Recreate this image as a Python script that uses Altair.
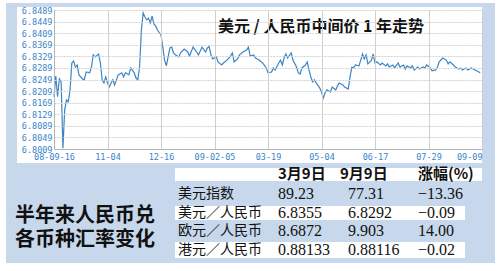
import altair as alt
import pandas as pd

# ---------------- data ----------------
days = [0,1,2,3,4,5,6,7,8,9,10,11,12,13,14,16,17,18,20,21,22,23,25,26,27,28,29,30,31,32,33,34,36,38,39,40,42,43,45,46,47,48,49,50,51,52,53,54,55,56,57,58,60,61,62,63,64,65,66,67,68,70,71,73,75,76,78,80,81,83,85,86,87,88,89,91,92,94,95,97,99,100,101,103,104,106,108,109,110,112,113,115,117,119,120,122,123,124,126,127,128,129,130,131,133,134,136,137,138,139,141,142,143,144,145,146,147,149,150,151,152,153,155,156,158,159,160,162,163,165,166,167,168,169,171,172,173,174,175,176,178,179,180,181,183,184,186,187,188,190,191,193,194,196,197,198,200,201,202,204,205,207,208,209,211,212,214,215,216,218,220,221,222,224,225,227,228,229,231,232,234,235,237,239]
rates = [6.8189,6.8261,6.8190,6.8251,6.8241,6.8012,6.8144,6.8178,6.8172,6.8213,6.8306,6.8313,6.8292,6.8299,6.8265,6.8251,6.8248,6.8275,6.8272,6.8292,6.8334,6.8327,6.8337,6.8306,6.8248,6.8237,6.8258,6.8237,6.8223,6.8237,6.8248,6.8230,6.8265,6.8272,6.8258,6.8272,6.8265,6.8289,6.8272,6.8254,6.8248,6.8292,6.8420,6.8479,6.8465,6.8455,6.8461,6.8444,6.8468,6.8441,6.8434,6.8420,6.8403,6.8361,6.8316,6.8296,6.8327,6.8358,6.8361,6.8341,6.8334,6.8327,6.8341,6.8354,6.8344,6.8330,6.8361,6.8344,6.8334,6.8361,6.8344,6.8358,6.8363,6.8334,6.8320,6.8327,6.8310,6.8299,6.8306,6.8316,6.8330,6.8341,6.8310,6.8320,6.8334,6.8344,6.8351,6.8361,6.8330,6.8334,6.8323,6.8316,6.8306,6.8289,6.8272,6.8275,6.8289,6.8282,6.8306,6.8316,6.8299,6.8323,6.8337,6.8323,6.8341,6.8316,6.8292,6.8272,6.8268,6.8289,6.8299,6.8310,6.8282,6.8258,6.8241,6.8248,6.8237,6.8220,6.8206,6.8185,6.8203,6.8213,6.8206,6.8223,6.8213,6.8227,6.8237,6.8230,6.8223,6.8216,6.8258,6.8292,6.8289,6.8299,6.8296,6.8316,6.8337,6.8320,6.8334,6.8303,6.8316,6.8337,6.8306,6.8310,6.8299,6.8306,6.8296,6.8303,6.8292,6.8299,6.8289,6.8306,6.8292,6.8299,6.8285,6.8296,6.8289,6.8296,6.8282,6.8292,6.8285,6.8292,6.8289,6.8299,6.8289,6.8279,6.8282,6.8292,6.8310,6.8323,6.8316,6.8303,6.8310,6.8299,6.8292,6.8285,6.8289,6.8282,6.8289,6.8282,6.8289,6.8285,6.8279,6.8272]

x_tick_days = [0, 30, 60, 90, 120, 150, 180, 210, 240]
x_tick_labels = ["08-09-16", "11-04", "12-16", "09-02-05", "03-19", "05-04", "06-17", "07-29", "09-09"]
y_ticks = [6.8009, 6.8049, 6.8089, 6.8129, 6.8169, 6.8209, 6.8249, 6.8289,
           6.8329, 6.8369, 6.8409, 6.8449, 6.8489]

chart_title = "美元 / 人民币中间价 1 年走势"
side_title = ["半年来人民币兑", "各币种汇率变化"]
headers = ["3月9日", "9月9日", "涨幅(%)"]
row_names = ["美元指数", "美元／人民币", "欧元／人民币", "港元／人民币"]
mar9 = ["89.23", "6.8355", "8.6872", "0.88133"]
sep9 = ["77.31", "6.8292", "9.903", "0.88116"]
change = ["−13.36", "−0.09", "14.00", "−0.02"]

# ---------------- styles ----------------
BLUE_BG = "#c7d7ec"
LINE = "#3d85c4"
LABEL_BLUE = "#3a84c8"
CJK = "Noto Sans CJK SC"

line_df = pd.DataFrame({"day": days, "rate": rates})
table_df = pd.DataFrame({"name": row_names, "mar9": mar9, "sep9": sep9, "change": change})

label_expr = "[" + ",".join(f"'{s}'" for s in x_tick_labels) + "][round(datum.value/30)]"

def deco_rect(x, x2, y, y2, color):
    return alt.Chart(pd.DataFrame({"k": [0]})).mark_rect(color=color).encode(
        x=alt.value(x), x2=alt.value(x2), y=alt.value(y), y2=alt.value(y2))

bg_blue = deco_rect(-48, 441, -7, 253, BLUE_BG)
bg_white = deco_rect(-37, 428, -3, 153, "white")
stripe0 = deco_rect(121, 428, 158, 171, "white")
stripe2 = deco_rect(121, 411, 196, 210, "white")
stripe4 = deco_rect(121, 411, 232, 248, "white")

line = alt.Chart(line_df).mark_line(color=LINE, strokeWidth=1.2).encode(
    x=alt.X("day:Q",
            scale=alt.Scale(domain=[0, 240], nice=False, zero=False),
            axis=alt.Axis(values=x_tick_days, labelExpr=label_expr, title=None,
                          ticks=False, labelPadding=3, labelFont="DejaVu Sans Mono",
                          labelFontSize=8.5, labelColor=LABEL_BLUE,
                          labelAlign={"condition": {"test": "datum.value == 240", "value": "right"}, "value": "center"},
                          grid=True, gridColor="#cfcfcf", gridWidth=1,
                          domainColor="#b5b5b5", zindex=1)),
    y=alt.Y("rate:Q",
            scale=alt.Scale(domain=[6.8009, 6.8489], nice=False, zero=False),
            axis=alt.Axis(values=y_ticks, format=".4f", title=None, ticks=False,
                          labelPadding=2, labelFont="DejaVu Sans Mono", labelFontSize=8.5,
                          labelColor=LABEL_BLUE, grid=True, gridColor="#d2d2d2",
                          gridDash=[2, 1], domainColor="#b5b5b5", zindex=1)),
)

title_txt = alt.Chart(pd.DataFrame({"t": [chart_title]})).mark_text(
    font=CJK, fontSize=16, fontWeight="bold", color="#111111", align="center", baseline="middle"
).encode(x=alt.value(267), y=alt.value(17), text="t:N")

side_txt = alt.Chart(pd.DataFrame({"k": [0]})).mark_text(
    text=side_title, font=CJK, fontSize=20, fontWeight="bold", color="#111111",
    align="left", baseline="middle", lineHeight=24
).encode(x=alt.value(-39), y=alt.value(206))

hdr_df = pd.DataFrame({"h": headers})
hdr_layers = []
for i, xpos in enumerate([224, 286, 364]):
    hdr_layers.append(
        alt.Chart(hdr_df).transform_filter(f"datum.h == '{headers[i]}'").mark_text(
            font=CJK, fontSize=15, fontWeight="bold", color="#111111", align="left", baseline="middle"
        ).encode(x=alt.value(xpos), y=alt.value(164), text="h:N")
    )

yrow = alt.Y("name:N", scale=alt.Scale(domain=row_names, range=[184, 240], padding=0), axis=None)

name_col = alt.Chart(table_df).mark_text(
    font=CJK, fontSize=14, color="#111111", align="left", baseline="middle"
).encode(x=alt.value(124), y=yrow, text="name:N")

def val_col(field, xpos):
    return alt.Chart(table_df).mark_text(
        font="Liberation Serif", fontSize=16, color="#111111", align="left", baseline="middle"
    ).encode(x=alt.value(xpos), y=yrow, text=f"{field}:N")

chart = alt.layer(
    bg_blue, bg_white, stripe0, stripe2, stripe4,
    line, title_txt, side_txt, *hdr_layers,
    name_col, val_col("mar9", 224), val_col("sep9", 294), val_col("change", 364),
).resolve_scale(
    x="independent", y="independent"
).properties(
    width=428, height=139, autosize="none",
    padding={"left": 54, "top": 10, "right": 18, "bottom": 122},
).configure(background="white").configure_view(stroke=None)

chart.save("out.html", embed_options={"renderer": "svg", "actions": False})
